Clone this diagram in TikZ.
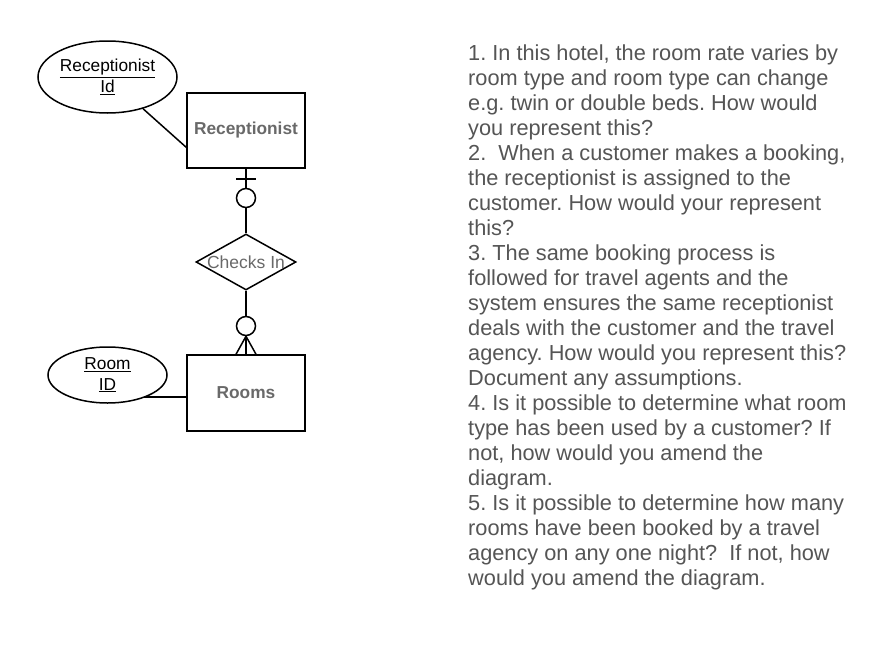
\documentclass[tikz,border=0pt]{standalone}
\usepackage{fontspec}
\setmainfont{Liberation Sans}
\usetikzlibrary{shapes.geometric}
\definecolor{bodygray}{RGB}{85,85,85}
\definecolor{labelgray}{RGB}{105,105,105}
\frenchspacing
\tikzset{
  ln/.style={line width=1.5pt, black},
  entity/.style={draw, ln, rectangle, minimum width=118pt, minimum height=75pt, inner sep=0pt,
                 font=\fontsize{17.3}{20}\selectfont\bfseries, text=labelgray},
  attr/.style={draw, ln, ellipse, inner sep=0pt, align=center,
               font=\fontsize{17.3}{20.5}\selectfont, text=black},
  rel/.style={draw, ln, diamond, minimum width=100pt, minimum height=56pt, inner sep=0pt},
  optc/.style={draw, ln, circle, minimum size=19pt, inner sep=0pt},
  rellbl/.style={font=\fontsize{17.5}{20}\selectfont, text=labelgray, inner sep=0pt},
  body/.style={anchor=north west, align=left, inner sep=0pt,
               font=\fontsize{21.75}{25}\selectfont\frenchspacing, text=bodygray}
}
\begin{document}
\begin{tikzpicture}[x=1pt, y=-1pt]
\useasboundingbox (0,0) rectangle (895,656);
\fill[white] (0,0) rectangle (895,656);

% entities
\node[entity] (recep) at (246,130.5) {Receptionist};
\node[entity, minimum height=76pt] (rooms) at (246,393) {Rooms};

% attributes
\node[attr, minimum width=139pt, minimum height=72pt] (recid) at (107.5,77) {\underline{Receptionist}\\\underline{Id}};
\node[attr, minimum width=119pt, minimum height=56pt] (roomid) at (107.5,375) {\underline{Room}\\\underline{ID}};

% relationship
\node[rel] (chk) at (246,262) {};
\node[rellbl] (chklbl) at (chk.center) {Checks In};

% optionality circles
\node[optc] (c1) at (246,198) {};
\node[optc] (c2) at (246,326) {};

% attribute connectors
\coordinate (a1) at (187,148);
\draw[ln] (recid) -- (a1);
\coordinate (b1) at (187,397);
\coordinate (b2) at (144,397);
\draw[ln] (b1) -- (b2);

% receptionist side: one (bar) and optional (circle)
\draw[ln] (recep.south) -- (c1.north);
\coordinate (t1) at (236,179);
\coordinate (t2) at (256,179);
\draw[ln] (t1) -- (t2);
\draw[ln] (c1.south) -- (chk.north);

% rooms side: optional many (crow's foot)
\draw[ln] (chk.south) -- (c2.north);
\draw[ln] (c2.south) -- (rooms.north);
\draw[ln] (c2.south) -- ([xshift=-10pt]rooms.north);
\draw[ln] (c2.south) -- ([xshift=10pt]rooms.north);

% questions
\node[body] (q) at (468,44.5) {%
1. In this hotel, the room rate varies by\\
room type and room type can change\\
e.g. twin or double beds. How would\\
you represent this?\\
2.\ \ When a customer makes a booking,\\
the receptionist is assigned to the\\
customer. How would your represent\\
this?\\
3. The same booking process is\\
followed for travel agents and the\\
system ensures the same receptionist\\
deals with the customer and the travel\\
agency. How would you represent this?\\
Document any assumptions.\\
4. Is it possible to determine what room\\
type has been used by a customer? If\\
not, how would you amend the\\
diagram.\\
5. Is it possible to determine how many\\
rooms have been booked by a travel\\
agency on any one night?\ \ If not, how\\
would you amend the diagram.};
\end{tikzpicture}
\end{document}
